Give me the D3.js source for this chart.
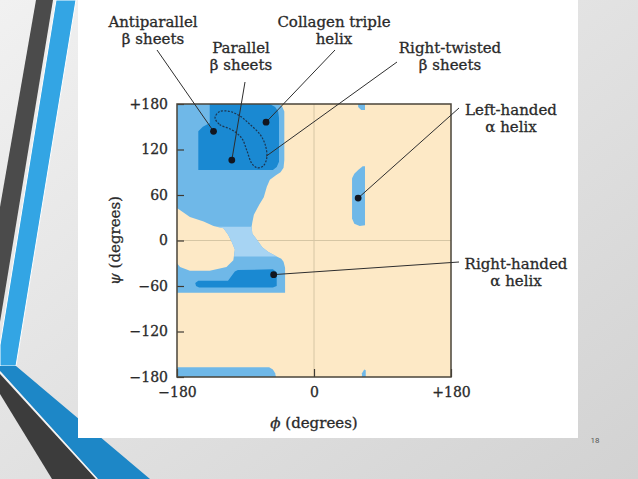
<!DOCTYPE html>
<html>
<head>
<meta charset="utf-8">
<script src="https://cdn.jsdelivr.net/npm/d3@7"></script>
<style>
  body { margin: 0; background: #e2e2e2; }
  svg text { font-family: "DejaVu Serif", "Liberation Serif", serif; fill: #2a2a2a; }
  svg text.heavy { stroke: #2a2a2a; stroke-width: 0.3px; }
</style>
</head>
<body>
<div id="chart"></div>
<script>
// ---- data (all in degrees: [phi, psi]) ----
var phiTicks = [-180, 0, 180];
var phiTickLabels = ["\u2212180", "0", "+180"];
var psiTicks = [-180, -120, -60, 0, 60, 120, 180];
var psiTickLabels = ["\u2212180", "\u2212120", "\u221260", "0", "60", "120", "+180"];

// sterically allowed (medium blue), beta + bridge + alpha region in one outline
var allowedRegion = [
  [-180, 180], [-46, 180], [-42, 177], [-39, 170], [-39, 106], [-40, 96], [-44, 90], [-50, 86],
  [-58, 80], [-62, 71], [-66, 57], [-72, 47], [-79, 34], [-81, 24], [-82, 18], [-81, 9],
  [-75, 1], [-68, -9], [-60, -15], [-49, -21], [-43, -24], [-40, -28], [-38, -36], [-38, -69],
  [-180, -69], [-180, -30], [-176, -35], [-163, -40], [-137, -40], [-115, -35], [-106, -26],
  [-104, -12], [-108, -2], [-113, 8], [-119, 16], [-132, 19], [-145, 25], [-163, 31], [-180, 43]
];
// outer limit bridge (light blue)
var bridgeRegion = [
  [-128, 18], [-82, 18], [-81, 9], [-75, 1], [-68, -9], [-60, -15], [-49, -21],
  [-105, -21], [-104, -12], [-108, -2], [-113, 8], [-119, 16]
];
// fully allowed (dark blue)
var betaCore = [
  [-137, 180], [-58, 180], [-51, 176], [-47, 170], [-46, 162], [-46, 104], [-49, 97], [-54, 93],
  [-152, 93], [-152, 144], [-146, 150], [-137, 155]
];
var alphaCore = [
  [-152, -53], [-113, -53], [-104, -41], [-100, -39], [-54, -38], [-49, -42], [-49, -60],
  [-54, -62], [-151, -62], [-155, -60], [-156, -56]
];
var leftAlphaRegion = [
  [64, 98], [67, 98], [67, 20], [60, 19], [53, 22], [50, 29], [50, 82], [53, 88], [58, 93]
];
var topNotch = [[58, 180], [67, 180], [67, 172], [62, 172], [58, 176]];
var bottomNotch = [[63, -180], [68, -180], [68, -171], [66, -170], [63, -175]];
var bottomStrip = [[-180, -167], [-59, -167], [-54, -170], [-51, -175], [-50, -180], [-180, -180]];

// collagen / twisted-sheet loop, traced
var twistLoop = [
  [-130, 162], [-124, 153], [-108, 146], [-95, 135], [-88, 118], [-82, 102], [-75, 96],
  [-67, 98], [-62, 109], [-64, 126], [-71, 140], [-84, 153], [-97, 164], [-110, 170],
  [-124, 170]
];

var structNames = [
  ["Antiparallel", "\u03b2 sheets"],
  ["Parallel", "\u03b2 sheets"],
  ["Collagen triple", "helix"],
  ["Right-twisted", "\u03b2 sheets"],
  ["Left-handed", "\u03b1 helix"],
  ["Right-handed", "\u03b1 helix"]
];
var structPoints = [[-132, 144], [-108, 106], [-63, 156], [-63, 111], [58, 56], [-53, -45]];
var structHasDot = [true, true, true, false, true, true];

// ---- layout ----
var W = 638, H = 479;
// label anchor (text centre x, first baseline y) and leader start, in px
var labelPos = [
  {x: 153, y: 27, lx: 157, ly: 50},
  {x: 241, y: 53, lx: 245, ly: 82},
  {x: 334, y: 27, lx: 335, ly: 50},
  {x: 450, y: 53, lx: 397, ly: 62},
  {x: 511, y: 115, lx: 459, ly: 108},
  {x: 516, y: 269, lx: 459, ly: 262}
];

var x = d3.scaleLinear().domain([-180, 180]).range([177, 451]);
var y = d3.scaleLinear().domain([-180, 180]).range([377, 104]);

var svg = d3.select("#chart").append("svg")
    .attr("width", W).attr("height", H);

var defs = svg.append("defs");
var grad = defs.append("linearGradient").attr("id", "slidebg")
    .attr("x1", 0).attr("y1", 0).attr("x2", 1).attr("y2", 1);
grad.append("stop").attr("offset", 0).attr("stop-color", "#f1f1f1");
grad.append("stop").attr("offset", 1).attr("stop-color", "#d2d2d2");
defs.append("clipPath").attr("id", "plotclip")
  .append("rect").attr("x", 177).attr("y", 104).attr("width", 274).attr("height", 273);

// slide background + decorative stripes
svg.append("rect").attr("width", W).attr("height", H).attr("fill", "url(#slidebg)");
var deco = svg.append("g");
deco.append("polygon").attr("points", "36,0 53,0 0,322 0,207").attr("fill", "#4b4b4b");
deco.append("polygon").attr("points", "56,0 76,0 16,366 0,366 0,345")
    .attr("fill", "#33a5e4").attr("stroke", "#ffffff").attr("stroke-width", 1);
deco.append("polygon").attr("points", "0,366 16,366 150,479 98,479 0,371").attr("fill", "#1d87c7");
deco.append("polygon").attr("points", "0,374 96,479 52,479 0,394").attr("fill", "#3c3c3c");
deco.append("line").attr("x1", 0).attr("y1", 372).attr("x2", 97).attr("y2", 479)
    .attr("stroke", "#f4f4f4").attr("stroke-width", 1.2);

// white picture panel
svg.append("rect").attr("x", 78).attr("y", 0).attr("width", 500).attr("height", 438).attr("fill", "#ffffff");

svg.append("text").attr("x", 595).attr("y", 443).attr("text-anchor", "middle")
    .style("font-family", "Roboto, sans-serif").style("font-size", "8px").style("fill", "#555")
    .text("18");

// ---- plot ----
var g = svg.append("g");
g.append("rect").attr("x", x(-180)).attr("y", y(180))
    .attr("width", x(180) - x(-180)).attr("height", y(-180) - y(180))
    .attr("fill", "#fde9c6");

// zero grid lines
g.append("line").attr("x1", x(0)).attr("x2", x(0)).attr("y1", y(180)).attr("y2", y(-180))
    .attr("stroke", "#d6c6a4").attr("stroke-width", 1);
g.append("line").attr("x1", x(-180)).attr("x2", x(180)).attr("y1", y(0)).attr("y2", y(0))
    .attr("stroke", "#d6c6a4").attr("stroke-width", 1);

var area = d3.line().x(function(d) { return x(d[0]); }).y(function(d) { return y(d[1]); })
    .curve(d3.curveLinearClosed);

var regions = g.append("g").attr("clip-path", "url(#plotclip)");
[allowedRegion, leftAlphaRegion, topNotch, bottomNotch, bottomStrip].forEach(function(r) {
  regions.append("path").attr("d", area(r)).attr("fill", "#6fb8e8");
});
regions.append("path").attr("d", area(bridgeRegion)).attr("fill", "#a7d4f3");
[betaCore, alphaCore].forEach(function(r) {
  regions.append("path").attr("d", area(r)).attr("fill", "#1a89d2");
});

// axes
var yAxis = d3.axisLeft(y).tickValues(psiTicks)
    .tickFormat(function(d, i) { return psiTickLabels[i]; })
    .tickSizeInner(-7).tickSizeOuter(0).tickPadding(9);
var xAxis = d3.axisBottom(x).tickValues(phiTicks)
    .tickFormat(function(d, i) { return phiTickLabels[i]; })
    .tickSizeInner(-8).tickSizeOuter(0).tickPadding(10);

var gy = g.append("g").attr("transform", "translate(" + x(-180) + ",0)").call(yAxis);
var gx = g.append("g").attr("transform", "translate(0," + y(-180) + ")").call(xAxis);
[gy, gx].forEach(function(a) {
  a.select(".domain").remove();
  a.attr("font-family", null).attr("font-size", null);
  a.selectAll("line").attr("stroke", "#3e3a33").attr("stroke-width", 1.2);
  a.selectAll("text").classed("heavy", true).style("font-size", "14px").style("fill", "#2a2a2a");
});

// frame
g.append("rect").attr("x", x(-180)).attr("y", y(180))
    .attr("width", x(180) - x(-180)).attr("height", y(-180) - y(180))
    .attr("fill", "none").attr("stroke", "#4a443a").attr("stroke-width", 1.5);

// axis titles
g.append("text").attr("class", "heavy").attr("x", x(0)).attr("y", 428).attr("text-anchor", "middle")
    .style("font-size", "15px")
    .html('<tspan font-style="italic">\u03d5</tspan> (degrees)');
g.append("text").attr("class", "heavy").attr("transform", "translate(120," + y(0) + ") rotate(-90)")
    .attr("text-anchor", "middle").style("font-size", "15px")
    .html('<tspan font-style="italic">\u03c8</tspan> (degrees)');

// dotted loop
g.append("path")
    .attr("d", d3.line().x(function(d) { return x(d[0]); }).y(function(d) { return y(d[1]); })
      .curve(d3.curveCatmullRomClosed.alpha(0.5))(twistLoop))
    .attr("fill", "none").attr("stroke", "#1d3550").attr("stroke-width", 1.2)
    .attr("stroke-dasharray", "2,1.4");

// leader lines + dots + labels
structNames.forEach(function(name, i) {
  var p = structPoints[i], lp = labelPos[i];
  g.append("line").attr("x1", lp.lx).attr("y1", lp.ly)
      .attr("x2", x(p[0])).attr("y2", y(p[1]))
      .attr("stroke", "#2e2e2e").attr("stroke-width", 1);
  if (structHasDot[i]) {
    g.append("circle").attr("cx", x(p[0])).attr("cy", y(p[1])).attr("r", 3.4)
        .attr("fill", "#121620");
  }
  var t = g.append("text").attr("class", "heavy").attr("text-anchor", "middle").style("font-size", "15px");
  name.forEach(function(line, k) {
    t.append("tspan").attr("x", lp.x).attr("y", lp.y + k * 17).text(line);
  });
});
</script>
</body>
</html>
